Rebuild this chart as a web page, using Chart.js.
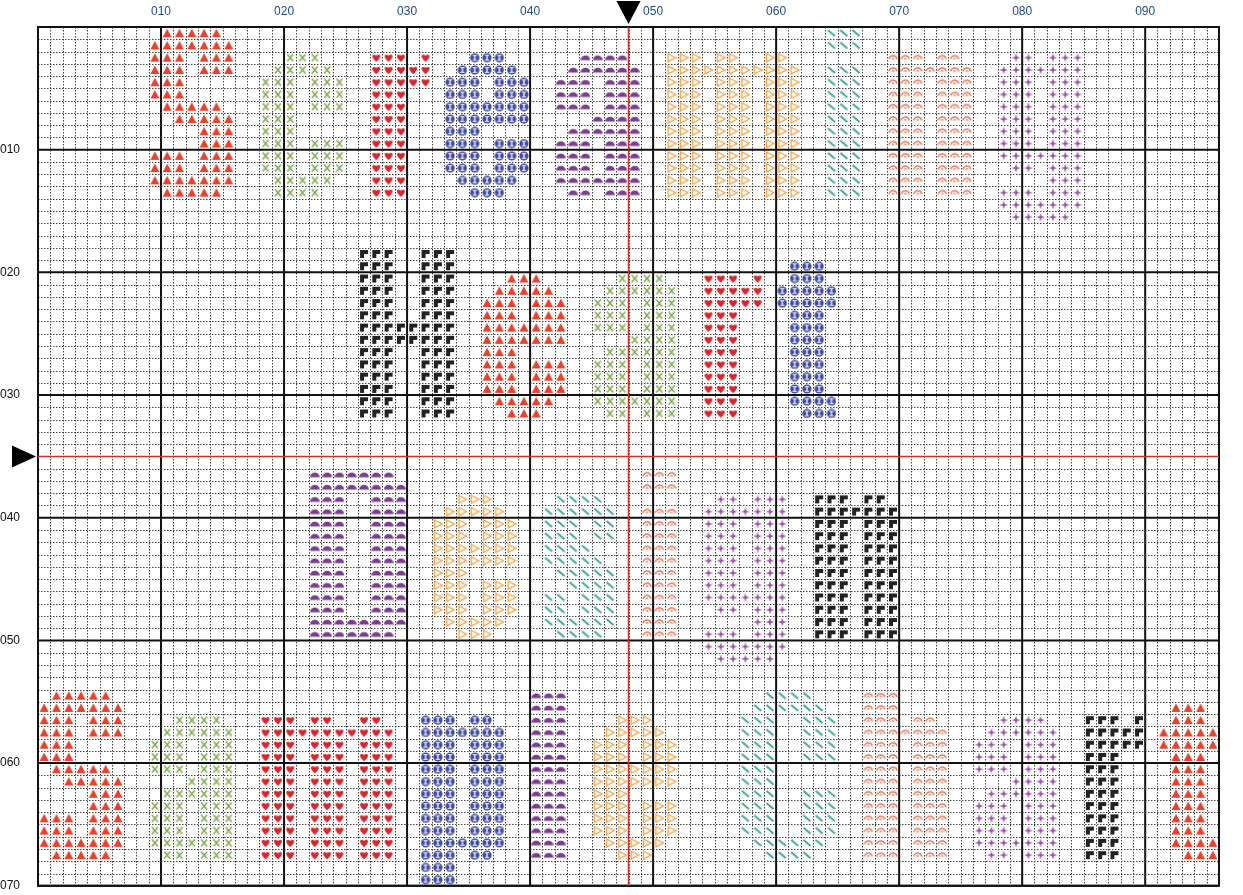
<!DOCTYPE html>
<html><head><meta charset="utf-8">
<script src="https://cdn.jsdelivr.net/npm/chart.js@4/dist/chart.umd.min.js"></script>
<style>html,body{margin:0;padding:0;background:#fff}canvas{display:block}</style>
</head><body>
<canvas id="c" width="1243" height="895"></canvas>
<script>
// Grid size and tick labels
const gridCols = 96, gridRows = 70;
const centerCol = 48, centerRow = 35;
const xTickValues = [10,20,30,40,50,60,70,80,90];
const yTickValues = [10,20,30,40,50,60,70];
const tickLabel = v => String(v).padStart(3,'0');

// Stitches: [row, [columns]] per letter/symbol
const tri1 = [[0,[10,11,12,13,14]],[1,[9,10,11,12,13,14,15]],[2,[9,10,11,13,14,15]],[3,[9,10,11,13,14,15]],[4,[9,10,11]],[5,[9,10,11]],[6,[10,11,12,13,14]],[7,[11,12,13,14,15]],[8,[13,14,15]],[9,[13,14,15]],[10,[9,10,11,13,14,15]],[11,[9,10,11,13,14,15]],[12,[9,10,11,12,13,14,15]],[13,[10,11,12,13,14]]];
const cross1 = [[2,[20,21,22]],[3,[19,20,21,22,23]],[4,[18,19,20,22,23,24]],[5,[18,19,20,22,23,24]],[6,[18,19,20,22,23,24]],[7,[18,19,20]],[8,[18,19,20]],[9,[18,19,20,22,23,24]],[10,[18,19,20,22,23,24]],[11,[18,19,20,22,23,24]],[12,[19,20,21,22,23]],[13,[19,20,21,22]]];
const heart1 = [[2,[27,28,29,31]],[3,[27,28,29,30,31]],[4,[27,28,29,30,31]],[5,[27,28,29]],[6,[27,28,29]],[7,[27,28,29]],[8,[27,28,29]],[9,[27,28,29]],[10,[27,28,29]],[11,[27,28,29]],[12,[27,28,29]],[13,[27,28,29]]];
const circ1 = [[2,[35,36,37]],[3,[34,35,36,37,38]],[4,[33,34,35,37,38,39]],[5,[33,34,35,37,38,39]],[6,[33,34,35,36,37,38,39]],[7,[33,34,35,36,37,38,39]],[8,[33,34,35]],[9,[33,34,35,37,38,39]],[10,[33,34,35,37,38,39]],[11,[33,34,35,37,38,39]],[12,[34,35,36,37,38]],[13,[35,36,37]]];
const dome1 = [[2,[44,45,46,47]],[3,[43,44,45,46,47,48]],[4,[42,43,44,46,47,48]],[5,[42,43,44,46,47,48]],[6,[42,43,44,46,47,48]],[7,[45,46,47,48]],[8,[43,44,45,46,47,48]],[9,[42,43,44,46,47,48]],[10,[42,43,44,46,47,48]],[11,[42,43,44,46,47,48]],[12,[42,43,44,45,46,47,48]],[13,[43,44,46,47,48]]];
const otri1 = [[2,[51,52,53,55,56,59,60]],[3,[51,52,53,54,55,56,57,58,59,60,61]],[4,[51,52,53,55,56,57,59,60,61]],[5,[51,52,53,55,56,57,59,60,61]],[6,[51,52,53,55,56,57,59,60,61]],[7,[51,52,53,55,56,57,59,60,61]],[8,[51,52,53,55,56,57,59,60,61]],[9,[51,52,53,55,56,57,59,60,61]],[10,[51,52,53,55,56,57,59,60,61]],[11,[51,52,53,55,56,57,59,60,61]],[12,[51,52,53,55,56,57,59,60,61]],[13,[51,52,53,55,56,57,59,60,61]]];
const diag1 = [[0,[64,65,66]],[1,[64,65,66]],[3,[64,65,66]],[4,[64,65,66]],[5,[64,65,66]],[6,[64,65,66]],[7,[64,65,66]],[8,[64,65,66]],[9,[64,65,66]],[10,[64,65,66]],[11,[64,65,66]],[12,[64,65,66]],[13,[64,65,66]]];
const fan1 = [[2,[69,70,71,73,74]],[3,[69,70,71,72,73,74,75]],[4,[69,70,71,73,74,75]],[5,[69,70,71,73,74,75]],[6,[69,70,71,73,74,75]],[7,[69,70,71,73,74,75]],[8,[69,70,71,73,74,75]],[9,[69,70,71,73,74,75]],[10,[69,70,71,73,74,75]],[11,[69,70,71,73,74,75]],[12,[69,70,71,73,74,75]],[13,[69,70,71,73,74,75]]];
const plus1 = [[2,[79,80,82,83,84]],[3,[78,79,80,81,82,83,84]],[4,[78,79,80,82,83,84]],[5,[78,79,80,82,83,84]],[6,[78,79,80,82,83,84]],[7,[78,79,80,82,83,84]],[8,[78,79,80,82,83,84]],[9,[78,79,80,82,83,84]],[10,[78,79,80,81,82,83,84]],[11,[79,80,82,83,84]],[12,[82,83,84]],[13,[78,79,80,82,83,84]],[14,[78,79,80,81,82,83,84]],[15,[79,80,81,82,83]]];

const block2 = [[18,[26,27,28,31,32,33]],[19,[26,27,28,31,32,33]],[20,[26,27,28,31,32,33]],[21,[26,27,28,31,32,33]],[22,[26,27,28,31,32,33]],[23,[26,27,28,31,32,33]],[24,[26,27,28,29,30,31,32,33]],[25,[26,27,28,29,30,31,32,33]],[26,[26,27,28,31,32,33]],[27,[26,27,28,31,32,33]],[28,[26,27,28,31,32,33]],[29,[26,27,28,31,32,33]],[30,[26,27,28,31,32,33]],[31,[26,27,28,31,32,33]]];
const tri2 = [[20,[38,39,40]],[21,[37,38,39,40,41]],[22,[36,37,38,40,41,42]],[23,[36,37,38,40,41,42]],[24,[36,37,38,39,40,41,42]],[25,[36,37,38,39,40,41,42]],[26,[36,37,38]],[27,[36,37,38,40,41,42]],[28,[36,37,38,40,41,42]],[29,[36,37,38,40,41,42]],[30,[37,38,39,40,41]],[31,[38,39,40]]];
const cross2 = [[20,[47,48,49,50]],[21,[46,47,48,49,50,51]],[22,[45,46,47,49,50,51]],[23,[45,46,47,49,50,51]],[24,[45,46,47,49,50,51]],[25,[48,49,50,51]],[26,[46,47,48,49,50,51]],[27,[45,46,47,49,50,51]],[28,[45,46,47,49,50,51]],[29,[45,46,47,49,50,51]],[30,[45,46,47,48,49,50,51]],[31,[46,47,49,50,51]]];
const heart2 = [[20,[54,55,56,58]],[21,[54,55,56,57,58]],[22,[54,55,56,57,58]],[23,[54,55,56]],[24,[54,55,56]],[25,[54,55,56]],[26,[54,55,56]],[27,[54,55,56]],[28,[54,55,56]],[29,[54,55,56]],[30,[54,55,56]],[31,[54,55,56]]];
const circ2 = [[19,[61,62,63]],[20,[61,62,63]],[21,[60,61,62,63,64]],[22,[60,61,62,63,64]],[23,[61,62,63]],[24,[61,62,63]],[25,[61,62,63]],[26,[61,62,63]],[27,[61,62,63]],[28,[61,62,63]],[29,[61,62,63]],[30,[61,62,63,64]],[31,[62,63,64]]];

const dome3 = [[36,[22,23,24,25,26,27,28]],[37,[22,23,24,25,26,27,28,29]],[38,[22,23,24,27,28,29]],[39,[22,23,24,27,28,29]],[40,[22,23,24,27,28,29]],[41,[22,23,24,27,28,29]],[42,[22,23,24,27,28,29]],[43,[22,23,24,27,28,29]],[44,[22,23,24,27,28,29]],[45,[22,23,24,27,28,29]],[46,[22,23,24,27,28,29]],[47,[22,23,24,27,28,29]],[48,[22,23,24,25,26,27,28,29]],[49,[22,23,24,25,26,27,28]]];
const otri3 = [[38,[34,35,36]],[39,[33,34,35,36,37]],[40,[32,33,34,36,37,38]],[41,[32,33,34,36,37,38]],[42,[32,33,34,35,36,37,38]],[43,[32,33,34,35,36,37,38]],[44,[32,33,34]],[45,[32,33,34,36,37,38]],[46,[32,33,34,36,37,38]],[47,[32,33,34,36,37,38]],[48,[33,34,35,36,37]],[49,[34,35,36]]];
const diag3 = [[38,[42,43,44,45]],[39,[41,42,43,44,45,46]],[40,[41,42,43,45,46]],[41,[41,42,43,45,46]],[42,[41,42,43,44]],[43,[41,42,43,44,45]],[44,[42,43,44,45,46]],[45,[43,44,45,46]],[46,[41,42,44,45,46]],[47,[41,42,44,45,46]],[48,[41,42,43,44,45,46]],[49,[42,43,44,45]]];
const fan3 = [[36,[49,50,51]],[37,[49,50,51]],[39,[49,50,51]],[40,[49,50,51]],[41,[49,50,51]],[42,[49,50,51]],[43,[49,50,51]],[44,[49,50,51]],[45,[49,50,51]],[46,[49,50,51]],[47,[49,50,51]],[48,[49,50,51]],[49,[49,50,51]]];
const plus3 = [[38,[55,56,58,59,60]],[39,[54,55,56,57,58,59,60]],[40,[54,55,56,58,59,60]],[41,[54,55,56,58,59,60]],[42,[54,55,56,58,59,60]],[43,[54,55,56,58,59,60]],[44,[54,55,56,58,59,60]],[45,[54,55,56,58,59,60]],[46,[54,55,56,57,58,59,60]],[47,[55,56,58,59,60]],[48,[58,59,60]],[49,[54,55,56,58,59,60]],[50,[54,55,56,57,58,59,60]],[51,[55,56,57,58,59]]];
const block3 = [[38,[63,64,65,67,68]],[39,[63,64,65,66,67,68,69]],[40,[63,64,65,67,68,69]],[41,[63,64,65,67,68,69]],[42,[63,64,65,67,68,69]],[43,[63,64,65,67,68,69]],[44,[63,64,65,67,68,69]],[45,[63,64,65,67,68,69]],[46,[63,64,65,67,68,69]],[47,[63,64,65,67,68,69]],[48,[63,64,65,67,68,69]],[49,[63,64,65,67,68,69]]];

const tri4 = [[54,[1,2,3,4,5]],[55,[0,1,2,3,4,5,6]],[56,[0,1,2,4,5,6]],[57,[0,1,2,4,5,6]],[58,[0,1,2]],[59,[0,1,2]],[60,[1,2,3,4,5]],[61,[2,3,4,5,6]],[62,[4,5,6]],[63,[4,5,6]],[64,[0,1,2,4,5,6]],[65,[0,1,2,4,5,6]],[66,[0,1,2,3,4,5,6]],[67,[1,2,3,4,5]]];
const cross4 = [[56,[11,12,13,14]],[57,[10,11,12,13,14,15]],[58,[9,10,11,13,14,15]],[59,[9,10,11,13,14,15]],[60,[9,10,11,13,14,15]],[61,[12,13,14,15]],[62,[10,11,12,13,14,15]],[63,[9,10,11,13,14,15]],[64,[9,10,11,13,14,15]],[65,[9,10,11,13,14,15]],[66,[9,10,11,12,13,14,15]],[67,[10,11,13,14,15]]];
const heart4 = [[56,[18,19,20,22,23,26,27]],[57,[18,19,20,21,22,23,24,25,26,27,28]],[58,[18,19,20,22,23,24,26,27,28]],[59,[18,19,20,22,23,24,26,27,28]],[60,[18,19,20,22,23,24,26,27,28]],[61,[18,19,20,22,23,24,26,27,28]],[62,[18,19,20,22,23,24,26,27,28]],[63,[18,19,20,22,23,24,26,27,28]],[64,[18,19,20,22,23,24,26,27,28]],[65,[18,19,20,22,23,24,26,27,28]],[66,[18,19,20,22,23,24,26,27,28]],[67,[18,19,20,22,23,24,26,27,28]]];
const circ4 = [[56,[31,32,33,35,36]],[57,[31,32,33,34,35,36,37]],[58,[31,32,33,35,36,37]],[59,[31,32,33,35,36,37]],[60,[31,32,33,35,36,37]],[61,[31,32,33,35,36,37]],[62,[31,32,33,35,36,37]],[63,[31,32,33,35,36,37]],[64,[31,32,33,35,36,37]],[65,[31,32,33,35,36,37]],[66,[31,32,33,34,35,36,37]],[67,[31,32,33,35,36]],[68,[31,32,33]],[69,[31,32,33]]];
const dome4 = [[54,[40,41,42]],[55,[40,41,42]],[56,[40,41,42]],[57,[40,41,42]],[58,[40,41,42]],[59,[40,41,42]],[60,[40,41,42]],[61,[40,41,42]],[62,[40,41,42]],[63,[40,41,42]],[64,[40,41,42]],[65,[40,41,42]],[66,[40,41,42]],[67,[40,41,42]]];
const otri4 = [[56,[47,48,49]],[57,[46,47,48,49,50]],[58,[45,46,47,49,50,51]],[59,[45,46,47,49,50,51]],[60,[45,46,47,48,49,50,51]],[61,[45,46,47,48,49,50,51]],[62,[45,46,47]],[63,[45,46,47,49,50,51]],[64,[45,46,47,49,50,51]],[65,[45,46,47,49,50,51]],[66,[46,47,48,49,50]],[67,[47,48,49]]];
const diag4 = [[54,[59,60,61,62]],[55,[58,59,60,61,62,63]],[56,[57,58,59,62,63,64]],[57,[57,58,59,62,63,64]],[58,[57,58,59,62,63,64]],[59,[57,58,59,62,63,64]],[60,[57,58,59]],[61,[57,58,59]],[62,[57,58,59,62,63,64]],[63,[57,58,59,62,63,64]],[64,[57,58,59,62,63,64]],[65,[57,58,59,62,63,64]],[66,[58,59,60,61,62,63]],[67,[59,60,61,62]]];
const fan4 = [[54,[67,68,69]],[55,[67,68,69]],[56,[67,68,69,71,72]],[57,[67,68,69,70,71,72,73]],[58,[67,68,69,71,72,73]],[59,[67,68,69,71,72,73]],[60,[67,68,69,71,72,73]],[61,[67,68,69,71,72,73]],[62,[67,68,69,71,72,73]],[63,[67,68,69,71,72,73]],[64,[67,68,69,71,72,73]],[65,[67,68,69,71,72,73]],[66,[67,68,69,71,72,73]],[67,[67,68,69,71,72,73]]];
const plus4 = [[56,[78,79,80,81]],[57,[77,78,79,80,81,82]],[58,[76,77,78,80,81,82]],[59,[76,77,78,80,81,82]],[60,[76,77,78,80,81,82]],[61,[79,80,81,82]],[62,[77,78,79,80,81,82]],[63,[76,77,78,80,81,82]],[64,[76,77,78,80,81,82]],[65,[76,77,78,80,81,82]],[66,[76,77,78,79,80,81,82]],[67,[77,78,80,81,82]]];
const block4 = [[56,[85,86,87,89]],[57,[85,86,87,88,89]],[58,[85,86,87,88,89]],[59,[85,86,87]],[60,[85,86,87]],[61,[85,86,87]],[62,[85,86,87]],[63,[85,86,87]],[64,[85,86,87]],[65,[85,86,87]],[66,[85,86,87]],[67,[85,86,87]]];
const tri5 = [[55,[92,93,94]],[56,[92,93,94]],[57,[91,92,93,94,95]],[58,[91,92,93,94,95]],[59,[92,93,94]],[60,[92,93,94]],[61,[92,93,94]],[62,[92,93,94]],[63,[92,93,94]],[64,[92,93,94]],[65,[92,93,94]],[66,[92,93,94,95]],[67,[93,94,95]]];

// ---- symbol images ----
const S = 10;
function mk(draw){const c=document.createElement('canvas');c.width=S;c.height=S;const g=c.getContext('2d');draw(g);return c;}
const sym = {
  tri: mk(g=>{g.fillStyle='#e8412c';g.beginPath();g.moveTo(5,0.5);g.lineTo(9.5,9);g.lineTo(0.5,9);g.closePath();g.fill();}),
  cross: mk(g=>{g.strokeStyle='#7fae52';g.lineWidth=1.6;g.beginPath();g.moveTo(2,1.5);g.lineTo(8,8.5);g.moveTo(8,1.5);g.lineTo(2,8.5);g.stroke();}),
  heart: mk(g=>{g.fillStyle='#d8262f';g.beginPath();g.moveTo(5,9.3);g.bezierCurveTo(-1,4.5,0.5,0.2,5,2.8);g.bezierCurveTo(9.5,0.2,11,4.5,5,9.3);g.fill();}),
  circ: mk(g=>{g.fillStyle='#3f4ba0';g.beginPath();g.arc(5,5,4.6,0,7);g.fill();g.fillStyle='#d8dcf2';g.fillRect(4.2,2,1.6,6);g.fillRect(2.8,2,4.4,1.2);g.fillRect(2.8,6.8,4.4,1.2);}),
  dome: mk(g=>{g.fillStyle='#7b3d8f';g.beginPath();g.arc(5,7.5,4.8,Math.PI,0);g.closePath();g.fill();}),
  otri: mk(g=>{g.strokeStyle='#f2a449';g.lineWidth=1.4;g.beginPath();g.moveTo(1.5,1);g.lineTo(9,5);g.lineTo(1.5,9);g.closePath();g.stroke();}),
  diag: mk(g=>{g.strokeStyle='#3fa898';g.lineWidth=2;g.beginPath();g.moveTo(1.5,2);g.lineTo(8.5,8);g.stroke();}),
  fan: mk(g=>{g.strokeStyle='#e2775a';g.lineWidth=1.5;g.beginPath();g.arc(5,7,4,Math.PI*1.05,-0.05*Math.PI);g.stroke();g.fillStyle='#e2775a';g.beginPath();g.arc(5,6.5,1.6,Math.PI,0);g.fill();}),
  plus: mk(g=>{g.fillStyle='#9b4ea6';g.beginPath();g.moveTo(5,0.5);g.lineTo(6,4);g.lineTo(9.5,5);g.lineTo(6,6);g.lineTo(5,9.5);g.lineTo(4,6);g.lineTo(0.5,5);g.lineTo(4,4);g.closePath();g.fill();}),
  block: mk(g=>{g.fillStyle='#222';g.fillRect(1,1,8,8);g.fillStyle='#fff';g.fillRect(5,5,4,4);})
};

const groups = [
  ['tri',[tri1,tri2,tri4,tri5]],['cross',[cross1,cross2,cross4]],['heart',[heart1,heart2,heart4]],
  ['circ',[circ1,circ2,circ4]],['dome',[dome1,dome3,dome4]],['otri',[otri1,otri3,otri4]],
  ['diag',[diag1,diag3,diag4]],['fan',[fan1,fan3,fan4]],['plus',[plus1,plus3,plus4]],['block',[block2,block3,block4]]
];
const toPoints = lists => lists.flatMap(l => l.flatMap(([r,cs]) => cs.map(c => ({x:c+0.5, y:r+0.5}))));
const datasets = groups.map(([k,lists]) => ({label:k, data:toPoints(lists), pointStyle:sym[k], pointRadius:5, pointHoverRadius:5, showLine:false}));

const gridPlugin = {
  id:'grid',
  beforeDatasetsDraw(chart){
    const {ctx, chartArea:a, scales:{x,y}} = chart;
    ctx.save();
    ctx.lineWidth=1; ctx.strokeStyle='#444'; ctx.setLineDash([1.5,1.5]);
    for(let i=1;i<gridCols;i++){ if(i%10===0) continue; const px=Math.round(x.getPixelForValue(i))+0.5; ctx.beginPath();ctx.moveTo(px,a.top);ctx.lineTo(px,a.bottom);ctx.stroke(); }
    for(let j=1;j<gridRows;j++){ if(j%10===0) continue; const py=Math.round(y.getPixelForValue(j))+0.5; ctx.beginPath();ctx.moveTo(a.left,py);ctx.lineTo(a.right,py);ctx.stroke(); }
    ctx.setLineDash([]); ctx.strokeStyle='#111'; ctx.lineWidth=2;
    for(let i=10;i<gridCols;i+=10){ const px=x.getPixelForValue(i); ctx.beginPath();ctx.moveTo(px,a.top);ctx.lineTo(px,a.bottom);ctx.stroke(); }
    for(let j=10;j<=gridRows;j+=10){ const py=y.getPixelForValue(j); ctx.beginPath();ctx.moveTo(a.left,py);ctx.lineTo(a.right,py);ctx.stroke(); }
    ctx.strokeRect(a.left,a.top,a.right-a.left,a.bottom-a.top);
    ctx.strokeStyle='#d0302a'; ctx.lineWidth=1.5;
    const cx=x.getPixelForValue(centerCol), cy=y.getPixelForValue(centerRow);
    ctx.beginPath();ctx.moveTo(cx,a.top);ctx.lineTo(cx,a.bottom);ctx.moveTo(a.left,cy);ctx.lineTo(a.right,cy);ctx.stroke();
    ctx.fillStyle='#000';
    ctx.beginPath();ctx.moveTo(cx-12,1);ctx.lineTo(cx+12,1);ctx.lineTo(cx,24);ctx.closePath();ctx.fill();
    ctx.beginPath();ctx.moveTo(12,cy-11);ctx.lineTo(12,cy+11);ctx.lineTo(36,cy);ctx.closePath();ctx.fill();
    ctx.restore();
  }
};

new Chart(document.getElementById('c'), {
  type:'scatter',
  data:{datasets},
  plugins:[gridPlugin],
  options:{
    responsive:false, animation:false,
    layout:{padding:{right:24,bottom:7,top:0,left:0}},
    plugins:{legend:{display:false},tooltip:{enabled:false}},
    scales:{
      x:{type:'linear',position:'top',min:0,max:gridCols,
        grid:{display:false},border:{display:false},
        afterBuildTicks:s=>{s.ticks=xTickValues.map(v=>({value:v}));},
        afterFit:s=>{s.height=27;},
        ticks:{autoSkip:false,maxRotation:0,padding:0,color:'#1f4a8e',font:{family:'Liberation Sans',size:12},callback:v=>tickLabel(v)}},
      y:{type:'linear',reverse:true,min:0,max:gridRows,
        grid:{display:false},border:{display:false},
        afterBuildTicks:s=>{s.ticks=yTickValues.map(v=>({value:v}));},
        afterFit:s=>{s.width=38;},
        ticks:{autoSkip:false,crossAlign:'far',padding:2,color:'#111',font:{family:'Liberation Sans',size:12},callback:v=>tickLabel(v)}}
    }
  }
});
</script>
</body></html>
